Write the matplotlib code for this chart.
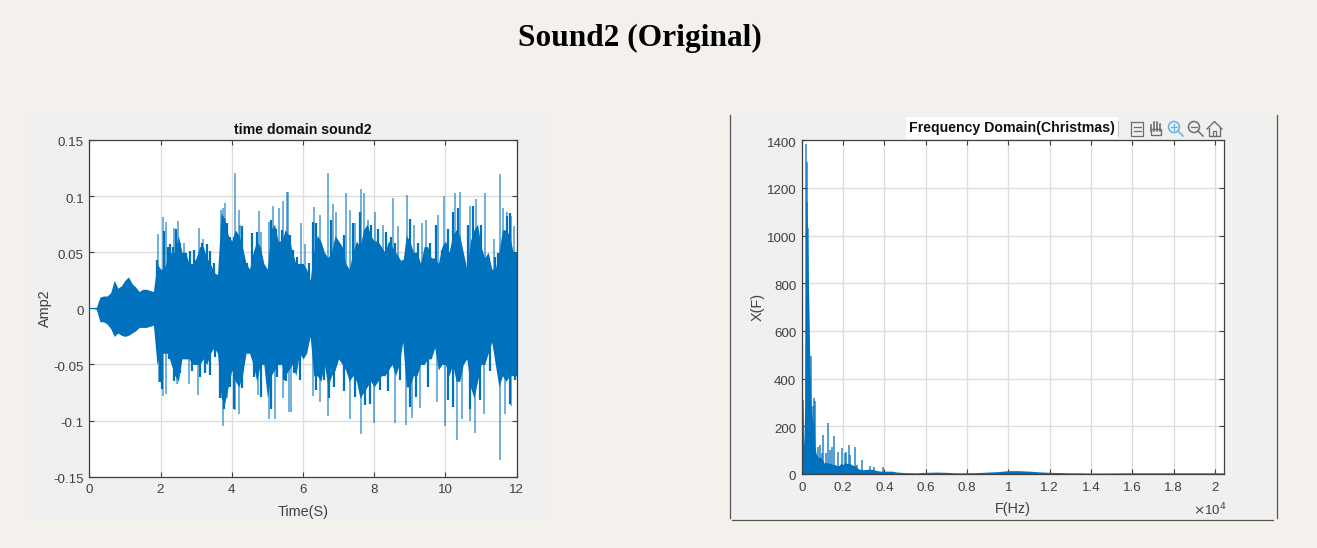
#!/usr/bin/env python3

import numpy as np
import matplotlib
matplotlib.use("Agg")
import matplotlib.pyplot as plt
from matplotlib.patches import Rectangle, Circle
from matplotlib.transforms import ScaledTranslation

W = 1317
H = 548
BLUE = "#0072BD"
TEXT = "#404040"
AXIS = "#404040"

plt.rcParams["font.family"] = ["Liberation Sans", "DejaVu Sans"]

# time domain, every 0.1 s
core_t = [round(i * 0.1, 1) for i in range(120)]
core_up = [0, 0, 0.001, 0.010, 0.011, 0.011, 0.014, 0.025, 0.018, 0.020,
           0.025, 0.028, 0.022, 0.019, 0.015, 0.017, 0.017, 0.016, 0.015, 0.040,
           0.035, 0.035, 0.045, 0.050, 0.050, 0.065, 0.050, 0.050, 0.040, 0.040,
           0.045, 0.055, 0.055, 0.045, 0.040, 0.032, 0.030, 0.085, 0.080, 0.065,
           0.060, 0.070, 0.065, 0.055, 0.040, 0.035, 0.050, 0.060, 0.055, 0.040,
           0.035, 0.070, 0.075, 0.060, 0.060, 0.070, 0.065, 0.050, 0.040, 0.040,
           0.040, 0.035, 0.025, 0.050, 0.065, 0.060, 0.050, 0.045, 0.050, 0.065,
           0.060, 0.055, 0.040, 0.035, 0.050, 0.060, 0.055, 0.070, 0.075, 0.065,
           0.060, 0.060, 0.055, 0.050, 0.060, 0.055, 0.050, 0.045, 0.040, 0.065,
           0.060, 0.050, 0.050, 0.040, 0.055, 0.055, 0.045, 0.045, 0.040, 0.055,
           0.060, 0.050, 0.065, 0.070, 0.065, 0.050, 0.035, 0.060, 0.070, 0.075,
           0.055, 0.045, 0.050, 0.035, 0.035, 0.050, 0.070, 0.070, 0.065, 0.050]
core_lo = [0, 0, -0.001, -0.012, -0.012, -0.014, -0.018, -0.025, -0.022, -0.024,
           -0.025, -0.024, -0.022, -0.020, -0.017, -0.017, -0.017, -0.016, -0.015, -0.050,
           -0.040, -0.040, -0.040, -0.050, -0.060, -0.065, -0.045, -0.045, -0.045, -0.050,
           -0.050, -0.050, -0.045, -0.050, -0.040, -0.035, -0.040, -0.080, -0.085, -0.070,
           -0.055, -0.065, -0.070, -0.060, -0.040, -0.040, -0.050, -0.065, -0.050, -0.050,
           -0.080, -0.060, -0.055, -0.050, -0.050, -0.060, -0.055, -0.050, -0.060, -0.040,
           -0.045, -0.040, -0.025, -0.060, -0.060, -0.065, -0.050, -0.070, -0.060, -0.055,
           -0.045, -0.050, -0.055, -0.065, -0.060, -0.065, -0.080, -0.075, -0.070, -0.065,
           -0.070, -0.065, -0.060, -0.060, -0.055, -0.050, -0.060, -0.050, -0.030, -0.070,
           -0.070, -0.060, -0.060, -0.050, -0.050, -0.045, -0.045, -0.035, -0.055, -0.050,
           -0.050, -0.060, -0.050, -0.065, -0.065, -0.050, -0.045, -0.070, -0.080, -0.065,
           -0.050, -0.050, -0.040, -0.030, -0.050, -0.070, -0.060, -0.065, -0.060, -0.060]

# tallest spikes, drawn lighter
peak_up_t = [1.94, 2.06, 2.15, 2.38, 2.49, 2.66, 3.08, 3.19, 3.70, 3.74, 3.81, 4.10, 4.20, 4.24,
             4.77, 4.83, 5.04, 5.15, 5.33, 5.45, 5.55, 5.59, 5.93, 6.07, 6.32, 6.47, 6.71, 6.85,
             6.93, 7.22, 7.31, 7.45, 7.63, 7.72, 7.82, 8.02, 8.24, 8.53, 8.66, 8.91, 9.11, 9.35,
             9.46, 9.79, 9.97, 10.28, 10.41, 10.69, 10.85, 11.10, 11.35, 11.54, 11.62, 11.72,
             11.84, 11.93]
peak_up = [0.066, 0.081, 0.077, 0.072, 0.078, 0.058, 0.072, 0.062, 0.088, 0.089, 0.094, 0.121,
           0.088, 0.074, 0.087, 0.068, 0.077, 0.091, 0.089, 0.096, 0.104, 0.104, 0.076, 0.057,
           0.090, 0.083, 0.121, 0.093, 0.086, 0.103, 0.088, 0.076, 0.106, 0.103, 0.079, 0.086,
           0.074, 0.098, 0.073, 0.101, 0.074, 0.076, 0.079, 0.083, 0.100, 0.103, 0.104, 0.091,
           0.097, 0.103, 0.062, 0.120, 0.089, 0.086, 0.082, 0.073]
peak_lo_t = [1.95, 2.08, 2.15, 2.46, 2.81, 3.05, 3.75, 3.87, 4.10, 4.19, 4.74, 5.05, 5.20, 5.45,
             5.61, 5.65, 6.27, 6.48, 6.71, 7.31, 7.62, 8.00, 8.59, 8.90, 9.07, 9.28, 9.77, 9.98,
             10.32, 10.46, 10.69, 10.83, 11.09, 11.53, 11.67, 11.83]
peak_lo = [-0.066, -0.078, -0.076, -0.067, -0.067, -0.077, -0.105, -0.080, -0.091, -0.094, -0.077,
           -0.099, -0.099, -0.080, -0.092, -0.092, -0.078, -0.083, -0.096, -0.099, -0.112, -0.102,
           -0.102, -0.104, -0.098, -0.089, -0.083, -0.105, -0.117, -0.099, -0.100, -0.111, -0.094,
           -0.135, -0.094, -0.087]

# smaller spikes between those
mid_up_t = [1.91, 2.10, 2.20, 2.27, 2.35, 2.44, 2.54, 2.72, 2.82, 2.93, 3.16, 3.30, 3.40, 3.49,
            3.63, 3.87, 3.96, 4.06, 4.29, 4.43, 4.57, 4.70, 4.90, 5.09, 5.23, 5.42, 5.51, 5.63,
            5.73, 5.82, 6.18, 6.27, 6.37, 6.55, 6.79, 7.07, 7.14, 7.40, 7.59, 7.92, 8.10, 8.34,
            8.46, 8.57, 8.81, 9.00, 9.23, 9.56, 9.73, 9.89, 10.08, 10.22, 10.34, 10.54, 10.64,
            10.76, 11.01, 11.25, 11.39, 11.48, 11.72, 11.81]
mid_up = [0.043, 0.069, 0.055, 0.057, 0.055, 0.071, 0.058, 0.049, 0.051, 0.052, 0.058, 0.057,
          0.051, 0.040, 0.031, 0.076, 0.064, 0.064, 0.073, 0.040, 0.067, 0.068, 0.037, 0.079,
          0.071, 0.070, 0.058, 0.065, 0.052, 0.046, 0.040, 0.077, 0.076, 0.049, 0.079, 0.043,
          0.065, 0.076, 0.086, 0.074, 0.071, 0.068, 0.064, 0.058, 0.043, 0.080, 0.058, 0.058,
          0.074, 0.052, 0.071, 0.086, 0.089, 0.037, 0.074, 0.091, 0.074, 0.037, 0.046, 0.049,
          0.082, 0.085]
mid_lo_t = [1.99, 2.04, 2.23, 2.32, 2.39, 2.55, 2.88, 2.98, 3.12, 3.26, 3.40, 3.54, 3.68, 3.79,
            3.96, 4.06, 4.29, 4.43, 4.62, 4.81, 4.95, 5.09, 5.28, 5.46, 5.52, 5.76, 5.92, 6.37,
            6.60, 6.74, 6.88, 7.16, 7.45, 7.73, 7.87, 8.15, 8.38, 8.71, 9.01, 9.18, 9.51, 10.08,
            10.22, 10.70, 10.97, 11.25, 11.81, 11.94]
mid_lo = [-0.066, -0.072, -0.045, -0.046, -0.065, -0.058, -0.056, -0.049, -0.061, -0.058, -0.059,
          -0.043, -0.080, -0.090, -0.070, -0.090, -0.071, -0.040, -0.061, -0.079, -0.037, -0.090,
          -0.061, -0.064, -0.065, -0.058, -0.064, -0.073, -0.064, -0.080, -0.070, -0.074, -0.079,
          -0.086, -0.085, -0.073, -0.074, -0.064, -0.088, -0.079, -0.070, -0.082, -0.088, -0.090,
          -0.082, -0.056, -0.085, -0.064]

# frequency domain, x in units of 1e4 Hz
spec_f = [0, 0.005, 0.01, 0.015, 0.02, 0.025, 0.03, 0.035, 0.04, 0.045, 0.05, 0.055, 0.06, 0.065,
          0.07, 0.08, 0.09, 0.10, 0.11, 0.12, 0.13, 0.14, 0.15, 0.16, 0.17, 0.18, 0.19, 0.20, 0.21,
          0.22, 0.23, 0.24, 0.25, 0.26, 0.27, 0.28, 0.30, 0.32, 0.34, 0.36, 0.38, 0.40, 0.42, 0.44,
          0.46, 0.48, 0.50, 0.55, 0.60, 0.65, 0.70, 0.75, 0.80, 0.85, 0.90, 0.95, 1.00, 1.05, 1.10,
          1.15, 1.20, 1.25, 1.30, 1.35, 1.40, 1.60, 1.80, 2.00, 2.04]
spec_core = [250, 280, 120, 300, 1000, 1100, 900, 700, 420, 300, 230, 200, 240, 110,
             85, 70, 70, 60, 45, 50, 45, 45, 40, 40, 35, 35, 45, 40, 45,
             45, 45, 40, 35, 35, 25, 20, 18, 20, 20, 15, 12, 12, 12, 12,
             8, 7, 6, 5, 7, 8, 7, 5, 5, 6, 8, 10, 14, 14, 12,
             9, 7, 6, 5, 5, 4, 5, 5, 5, 5]
spike_f = [0.006, 0.02, 0.025, 0.024, 0.031, 0.044, 0.039, 0.058, 0.053, 0.048, 0.066, 0.077, 0.087,
           0.098, 0.105, 0.119, 0.129, 0.135, 0.148, 0.156, 0.174, 0.195, 0.208, 0.215, 0.227, 0.235,
           0.256, 0.268, 0.292, 0.332, 0.348, 0.392]
spike_x = [312, 1385, 1308, 1143, 1030, 494, 417, 319, 286, 241, 307, 115, 122,
           87, 164, 87, 213, 100, 115, 160, 94, 108, 87, 94, 122, 80,
           115, 38, 59, 35, 31, 31]

time_ticks = [0, 2, 4, 6, 8, 10, 12]
amp_ticks = [-0.15, -0.1, -0.05, 0, 0.05, 0.1, 0.15]
amp_labels = ["-0.15", "-0.1", "-0.05", "0", "0.05", "0.1", "0.15"]
freq_ticks = [0, 0.2, 0.4, 0.6, 0.8, 1, 1.2, 1.4, 1.6, 1.8, 2]
freq_labels = ["0", "0.2", "0.4", "0.6", "0.8", "1", "1.2", "1.4", "1.6", "1.8", "2"]
spec_ticks = [0, 200, 400, 600, 800, 1000, 1200, 1400]


def axes_px(fig, left, top, right, bottom):
    return fig.add_axes([left / W, 1 - bottom / H, (right - left) / W, (bottom - top) / H])


def matlab_style(ax):
    ax.grid(True, color="#dcdcdc", linewidth=0.9)
    ax.set_axisbelow(True)
    ax.tick_params(direction="in", length=3.5, width=0.8, color=AXIS, top=True, right=True,
                   labelsize=9.6, labelcolor=TEXT, pad=4)
    for s in ax.spines.values():
        s.set_color(AXIS)
        s.set_linewidth(0.9)


def shift_labels(fig, labels, dy_px):
    # MATLAB sets its tick labels a little lower than matplotlib does
    offset = ScaledTranslation(0, -dy_px / 100, fig.dpi_scale_trans)
    for lbl in labels:
        lbl.set_transform(lbl.get_transform() + offset)


def draw_icons(bg):
    gray = "#6e6e6e"
    # list
    bg.plot([1131, 1143, 1143, 1131, 1131], [122, 122, 136, 136, 122], color=gray, lw=0.9)
    bg.plot([1134, 1141], [127, 127], color=gray, lw=0.9)
    bg.plot([1134, 1141], [131, 131], color=gray, lw=0.9)
    # hand
    for x, top in zip([1151, 1154, 1157, 1160], [125, 122, 122, 124]):
        bg.plot([x, x], [top, 131], color=gray, lw=1.2)
    bg.add_patch(Rectangle((1151, 129), 10, 6, facecolor="none", edgecolor=gray, lw=1))
    # zoom in
    bg.add_patch(Circle((1174, 127), 5.5, facecolor="none", edgecolor="#62b5e8", lw=1.1))
    bg.plot([1178, 1183], [131, 136], color="#62b5e8", lw=1.1)
    bg.plot([1171, 1177], [127, 127], color="#62b5e8", lw=0.9)
    bg.plot([1174, 1174], [124, 130], color="#62b5e8", lw=0.9)
    # zoom out
    bg.add_patch(Circle((1194, 127), 5.5, facecolor="none", edgecolor=gray, lw=1.1))
    bg.plot([1198, 1203], [131, 136], color=gray, lw=1.1)
    bg.plot([1191, 1197], [127, 127], color=gray, lw=0.9)
    # home
    bg.plot([1207, 1214.5, 1222], [129, 121.5, 129], color=gray, lw=1)
    bg.plot([1209, 1209, 1220, 1220], [128, 136, 136, 128], color=gray, lw=1)
    bg.plot([1213, 1213, 1216, 1216], [136, 131, 131, 136], color=gray, lw=0.9)


def main():
    fig = plt.figure(figsize=(W / 100, H / 100), dpi=100, facecolor="#f4f1ec")

    bg = fig.add_axes([0, 0, 1, 1])
    bg.set_xlim(0, W)
    bg.set_ylim(H, 0)
    bg.axis("off")
    bg.add_patch(Rectangle((28, 115), 518, 404, facecolor="#f0f0f0", edgecolor="none"))
    bg.add_patch(Rectangle((730, 115), 546, 404, facecolor="#f0f0f0", edgecolor="none"))
    bg.plot([729.5, 729.5], [115, 518], color="#555555", lw=0.9)
    bg.plot([1276.5, 1276.5], [115, 518], color="#555555", lw=0.9)
    bg.plot([732, 1273], [519.5, 519.5], color="#555555", lw=0.9)
    bg.text(640, 38, "Sound2 (Original)", ha="center", va="center", fontsize=22.6,
            fontweight="bold", family=["Liberation Serif", "DejaVu Serif"], color="black")
    draw_icons(bg)

    # time domain
    ax1 = axes_px(fig, 89.3, 140, 516.7, 476.7)
    matlab_style(ax1)
    ax1.plot([0, 0.2], [0, 0], color=BLUE, lw=0.8)
    ax1.fill_between(core_t + [12], core_lo + [core_lo[-1]], core_up + [core_up[-1]],
                     color=BLUE, linewidth=0)
    ax1.vlines(mid_up_t, 0, mid_up, color=BLUE, lw=1.6)
    ax1.vlines(mid_lo_t, mid_lo, 0, color=BLUE, lw=1.6)
    ax1.vlines(peak_up_t, 0, peak_up, color=BLUE, lw=1.1, alpha=0.7)
    ax1.vlines(peak_lo_t, peak_lo, 0, color=BLUE, lw=1.1, alpha=0.7)
    ax1.set_xlim(0, 12)
    ax1.set_ylim(-0.15, 0.15)
    ax1.set_xticks(time_ticks)
    ax1.set_yticks(amp_ticks)
    ax1.set_yticklabels(amp_labels)
    ax1.set_xlabel("Time(S)", fontsize=10.4, color=TEXT, labelpad=6)
    ax1.set_ylabel("Amp2", fontsize=10.4, color=TEXT, labelpad=1)
    ax1.set_title("time domain sound2", fontsize=10.2, fontweight="bold", color="#111111", pad=4)
    shift_labels(fig, ax1.get_xticklabels(), 2)
    shift_labels(fig, ax1.get_yticklabels(), 2)

    # frequency domain
    ax2 = axes_px(fig, 801.7, 140.3, 1223.7, 474)
    matlab_style(ax2)
    ax2.fill_between(spec_f, 0, spec_core, color=BLUE, linewidth=0)
    ax2.vlines(spike_f, 0, spike_x, color=BLUE, lw=1.1, alpha=0.85)
    ax2.set_xlim(0, 2.042)
    ax2.set_ylim(0, 1400)
    ax2.set_xticks(freq_ticks)
    ax2.set_xticklabels(freq_labels)
    ax2.set_yticks(spec_ticks)
    ax2.set_xlabel("F(Hz)", fontsize=10.4, color=TEXT, labelpad=6)
    ax2.set_ylabel("X(F)", fontsize=10.4, color=TEXT, labelpad=1)
    shift_labels(fig, ax2.get_xticklabels(), 2)
    shift_labels(fig, ax2.get_yticklabels(), 2)
    bg.text(1012, 128, "Frequency Domain(Christmas)", ha="center", va="center", fontsize=10.2,
            fontweight="bold", color="#111111",
            bbox=dict(facecolor="white", edgecolor="none", pad=2.5))
    bg.plot([1116.5, 1116.5], [121, 136], color="black", lw=1)
    bg.text(1193, 510, r"$\times$10$^{4}$", ha="left", va="center", fontsize=9.6, color=TEXT)

    fig.savefig("out.png", dpi=100, facecolor=fig.get_facecolor())


if __name__ == "__main__":
    main()
